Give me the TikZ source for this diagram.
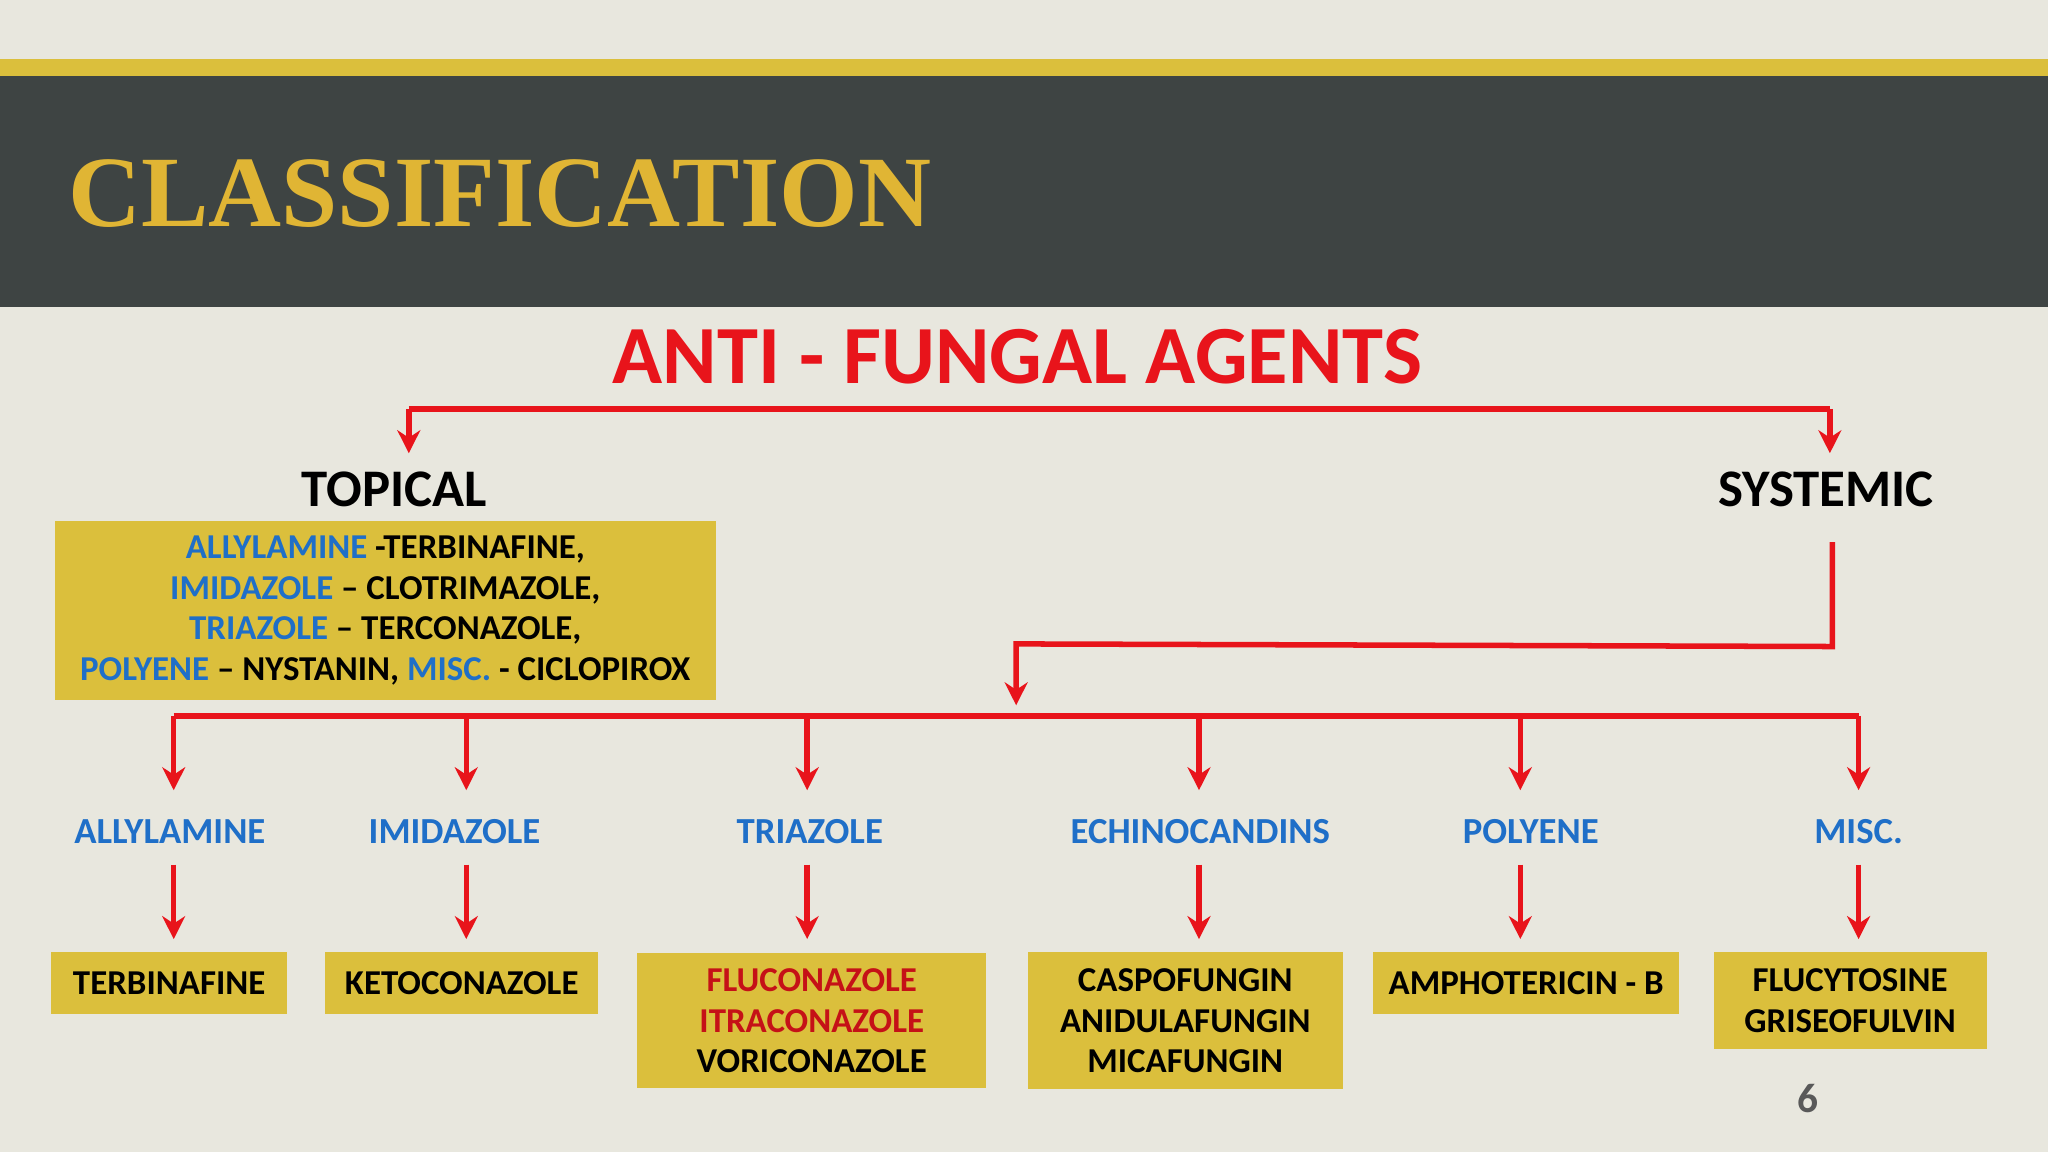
\documentclass[tikz,border=0pt]{standalone}
\usepackage{fontspec}
\setmainfont{Carlito}
\newfontfamily\serifbold{Liberation Serif}
\definecolor{bg}{HTML}{E8E7DE}
\definecolor{gold}{HTML}{DBBF3C}
\definecolor{board}{HTML}{3E4443}
\definecolor{rd}{HTML}{E8141B}
\definecolor{bl}{HTML}{1F6FC8}
\definecolor{titlegold}{HTML}{E0B534}
\usetikzlibrary{arrows.meta}
\tikzset{
 arr/.style={draw=rd,line width=1.2pt,-{Stealth[length=5pt,width=5pt]}},
 ln/.style={draw=rd,line width=1.2pt},
 lab/.style={text=bl,font=\bfseries\fontsize{8}{9}\selectfont},
 gbox/.style={fill=gold,font=\bfseries\fontsize{7.6}{8.8}\selectfont,align=center},
 head/.style={font=\bfseries\fontsize{11.5}{13}\selectfont}
}
\begin{document}
\begin{tikzpicture}[x=0.01cm,y=-0.01cm]
\useasboundingbox (0,0) rectangle (1568,882);
\fill[bg] (0,0) rectangle (1568,882);
\fill[gold] (0,45) rectangle (1568,58);
\fill[board] (0,58) rectangle (1568,235);
\node[anchor=west,text=titlegold,font=\serifbold\bfseries\fontsize{22}{24}\selectfont] (title) at (40,148) {CLASSIFICATION};
\node[text=rd,font=\bfseries\fontsize{18}{20}\selectfont] (anti) at (779,273) {ANTI - FUNGAL AGENTS};
\node[head] (topical) at (302,375) {TOPICAL};
\node[head] (systemic) at (1398,375) {SYSTEMIC};
\coordinate (L) at (313,313); \coordinate (R) at (1401,313);
\draw[ln] (L) -- (R);
\draw[arr] (L) -- (313,347);
\draw[arr] (R) -- (1401,347);
\node[gbox,minimum width=5.06cm,minimum height=1.37cm] (tbox) at (295,467.5) {\textcolor{bl}{ALLYLAMINE} -TERBINAFINE,\\ \textcolor{bl}{IMIDAZOLE} -- CLOTRIMAZOLE,\\ \textcolor{bl}{TRIAZOLE} -- TERCONAZOLE,\\ \textcolor{bl}{POLYENE} -- NYSTANIN, \textcolor{bl}{MISC.} - CICLOPIROX};
\coordinate (S1) at (1403,415); \coordinate (S2) at (1403,495); \coordinate (S3) at (778,493);
\draw[arr] (S1) -- (S2) -- (S3) -- (778,540);
\draw[ln] (133,548) -- (1423,548);
\foreach \x/\lx/\nm/\t in {133/130/a/ALLYLAMINE,357/348/b/IMIDAZOLE,618/620/c/TRIAZOLE,918/919/d/ECHINOCANDINS,1164/1172/e/POLYENE,1423/1423/f/MISC.}{
 \draw[arr] (\x,548) -- (\x,605);
 \node[lab] (l\nm) at (\lx,637) {\t};
 \draw[arr] (\x,662) -- (\x,719);
}
\node[gbox,minimum width=1.81cm,minimum height=0.47cm] (b1) at (129.5,752.5) {TERBINAFINE};
\node[gbox,minimum width=2.09cm,minimum height=0.47cm] (b2) at (353.5,752.5) {KETOCONAZOLE};
\node[gbox,minimum width=2.67cm,minimum height=1.03cm] (b3) at (621.5,781.5) {\textcolor{rd!85!black}{FLUCONAZOLE}\\ \textcolor{rd!85!black}{ITRACONAZOLE}\\ VORICONAZOLE};
\node[gbox,minimum width=2.41cm,minimum height=1.05cm] (b4) at (907.5,781.5) {CASPOFUNGIN\\ ANIDULAFUNGIN\\ MICAFUNGIN};
\node[gbox,minimum width=2.31cm,minimum height=0.47cm] (b5) at (1168.5,752.5) {AMPHOTERICIN - B};
\node[gbox,minimum width=2.09cm,minimum height=0.74cm] (b6) at (1416.5,766) {FLUCYTOSINE\\ GRISEOFULVIN};
\node[text=black!65,font=\bfseries\fontsize{9}{10}\selectfont] (pg) at (1384,841) {6};
\end{tikzpicture}
\end{document}
